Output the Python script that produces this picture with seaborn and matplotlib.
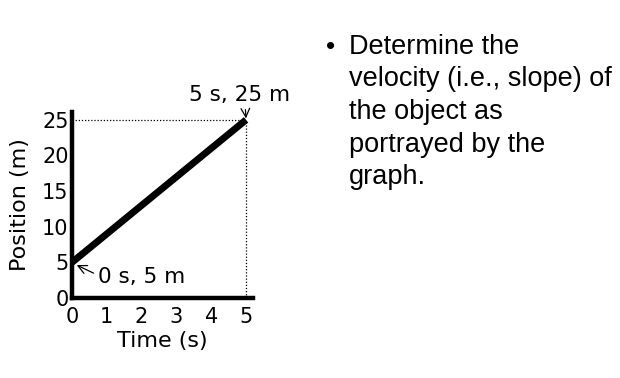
import matplotlib
matplotlib.use("Agg")
import matplotlib.pyplot as plt
import seaborn as sns
import pandas as pd

sns.set_theme(style="white")
plt.rcParams['font.family'] = ['DejaVu Sans']

time_s = [0, 5]
position_m = [5, 25]
x_ticks = [0, 1, 2, 3, 4, 5]
y_ticks = [0, 5, 10, 15, 20, 25]
bullet_lines = ["Determine the", "velocity (i.e., slope) of", "the object as",
                "portrayed by the", "graph."]

df = pd.DataFrame({"Time (s)": time_s, "Position (m)": position_m})

fig = plt.figure(figsize=(6.2, 3.78), dpi=100)
W, H = 620, 378
left, right, bottom_px, top_px = 72, 253, 298, 112
ax = fig.add_axes([left / W, (H - bottom_px) / H, (right - left) / W, (bottom_px - top_px) / H])

sns.lineplot(data=df, x="Time (s)", y="Position (m)", ax=ax, color="black", linewidth=5,
             solid_capstyle="butt")
ax.set_xlim(0, 5.2)
ax.set_ylim(0, 26.1)

ax.plot([0, 5], [25, 25], color="black", linestyle=(0, (1, 1.5)), linewidth=0.9)
ax.plot([5, 5], [0, 25], color="black", linestyle=(0, (1, 1.5)), linewidth=0.9)

for s in ["top", "right"]:
    ax.spines[s].set_visible(False)
for s in ["left", "bottom"]:
    ax.spines[s].set_linewidth(3.2)
    ax.spines[s].set_color("black")

ax.set_xticks(x_ticks)
ax.set_yticks(y_ticks)
ax.tick_params(axis="both", length=5, width=1.2, color="black", labelsize=15,
               direction="inout", labelcolor="black")
ax.tick_params(axis="y", pad=0)
ax.tick_params(axis="x", pad=4)
ax.set_xlabel("Time (s)", fontsize=16, labelpad=3, color="black")
ax.set_ylabel("Position (m)", fontsize=16, labelpad=9, color="black")

ax.annotate("5 s, 25 m", xy=(5, 25), xytext=(4.8, 28.5), fontsize=15.5, color="black",
            ha="center", va="center", annotation_clip=False,
            arrowprops=dict(arrowstyle="->", color="black", lw=0.9,
                            relpos=(0.56, 0.0), shrinkA=1, shrinkB=1))
ax.annotate("0 s, 5 m", xy=(0.1, 4.7), xytext=(0.75, 2.9), fontsize=15.5, color="black",
            ha="left", va="center", annotation_clip=False,
            arrowprops=dict(arrowstyle="->", color="black", lw=0.9,
                            relpos=(0.0, 0.6), shrinkA=1, shrinkB=1))

# bullet text
fig.text(326 / W, 1 - 47 / H, "\u2022", fontsize=19, family="Liberation Sans",
         va="center", ha="left", color="black")
for i, line in enumerate(bullet_lines):
    fig.text(349 / W, 1 - (47 + i * 32.5) / H, line, fontsize=19.5, family="Liberation Sans",
             va="center", ha="left", color="black")

fig.savefig("out.png", dpi=100, facecolor="white")
